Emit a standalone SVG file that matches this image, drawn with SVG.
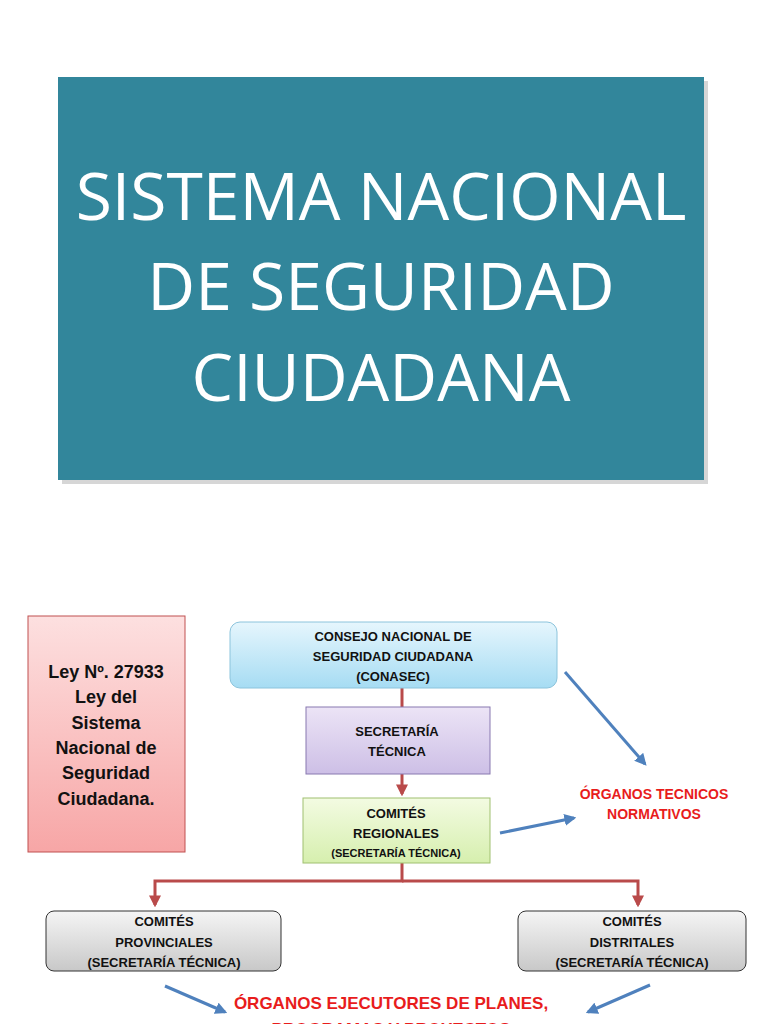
<svg xmlns="http://www.w3.org/2000/svg" width="768" height="1024" viewBox="0 0 768 1024">
<defs>
<linearGradient id="gBlue" x1="0" y1="0" x2="0" y2="1"><stop offset="0" stop-color="#e6f6fd"/><stop offset="1" stop-color="#a6dcf3"/></linearGradient>
<linearGradient id="gPurple" x1="0" y1="0" x2="0" y2="1"><stop offset="0" stop-color="#ece4f6"/><stop offset="1" stop-color="#cdbfe6"/></linearGradient>
<linearGradient id="gGreen" x1="0" y1="0" x2="0" y2="1"><stop offset="0" stop-color="#f3fbe2"/><stop offset="1" stop-color="#d6efae"/></linearGradient>
<linearGradient id="gGray" x1="0" y1="0" x2="0" y2="1"><stop offset="0" stop-color="#f5f5f5"/><stop offset="1" stop-color="#c8c8c8"/></linearGradient>
<linearGradient id="gPink" x1="0" y1="0" x2="0" y2="1"><stop offset="0" stop-color="#fde0e0"/><stop offset="1" stop-color="#f7a6a6"/></linearGradient>
<marker id="ar" viewBox="0 0 10 10" refX="8" refY="5" markerWidth="4" markerHeight="4" orient="auto"><path d="M0,0 L10,5 L0,10 z" fill="#b94a4a"/></marker>
<marker id="ab" viewBox="0 0 10 10" refX="8" refY="5" markerWidth="4" markerHeight="4" orient="auto"><path d="M0,0 L10,5 L0,10 z" fill="#4f81bd"/></marker>
</defs>
<style>
.t{font-family:"Liberation Sans",Arial,sans-serif;font-weight:bold;font-size:13px;text-anchor:middle;fill:#111}
.s{font-size:11px}
.r{fill:#e81c1c;font-size:14px}
.red{stroke:#b94a4a;stroke-width:3;fill:none}
.blue{stroke:#4f81bd;stroke-width:3;fill:none}
</style>
<rect width="768" height="1024" fill="#fff"/>
<g id="title">
<rect x="62" y="81" width="646" height="403" fill="#999" opacity="0.4"/>
<rect x="58" y="77" width="646" height="403" fill="#32869b"/>
<g font-family="'Open Sans','Liberation Sans',sans-serif" font-size="66" fill="#fff" text-anchor="middle">
<text x="381" y="220">SISTEMA NACIONAL</text>
<text x="381" y="310">DE SEGURIDAD</text>
<text x="381" y="401">CIUDADANA</text>
</g>
</g>
<g id="connectors">
<line x1="402" y1="688" x2="402" y2="707" class="red"/>
<line x1="402" y1="774" x2="402" y2="794" class="red" marker-end="url(#ar)"/>
<polyline points="402,863 402,881 155,881 155,905" class="red" marker-end="url(#ar)"/>
<polyline points="402,881 638,881 638,905" class="red" marker-end="url(#ar)"/>
<line x1="565" y1="672" x2="645" y2="764" class="blue" marker-end="url(#ab)"/>
<line x1="500" y1="833" x2="574" y2="818" class="blue" marker-end="url(#ab)"/>
<line x1="165" y1="986" x2="225" y2="1012" class="blue" marker-end="url(#ab)"/>
<line x1="650" y1="985" x2="588" y2="1012" class="blue" marker-end="url(#ab)"/>
</g>
<g id="ley">
<rect x="28" y="616" width="157" height="236" fill="url(#gPink)" stroke="#c05050" stroke-width="1"/>
<g class="t" style="font-size:18px">
<text x="106" y="678">Ley Nº. 27933</text>
<text x="106" y="703">Ley del</text>
<text x="106" y="729">Sistema</text>
<text x="106" y="754">Nacional de</text>
<text x="106" y="779">Seguridad</text>
<text x="106" y="805">Ciudadana.</text>
</g>
</g>
<g id="conasec">
<rect x="230" y="622" width="327" height="66" rx="10" fill="url(#gBlue)" stroke="#8cc4dc"/>
<text class="t" x="393" y="641">CONSEJO NACIONAL DE</text>
<text class="t" x="393" y="661">SEGURIDAD CIUDADANA</text>
<text class="t" x="393" y="681">(CONASEC)</text>
</g>
<g id="secretaria">
<rect x="306" y="707" width="184" height="67" fill="url(#gPurple)" stroke="#8878b0"/>
<text class="t" x="397" y="736">SECRETARÍA</text>
<text class="t" x="397" y="756">TÉCNICA</text>
</g>
<g id="regionales">
<rect x="303" y="798" width="187" height="65" fill="url(#gGreen)" stroke="#a0c070"/>
<text class="t" x="396" y="818">COMITÉS</text>
<text class="t" x="396" y="838">REGIONALES</text>
<text class="t s" x="396" y="857">(SECRETARÍA TÉCNICA)</text>
</g>
<g id="tecnicos">
<text class="t r" x="654" y="799">ÓRGANOS TECNICOS</text>
<text class="t r" x="654" y="819">NORMATIVOS</text>
</g>
<g id="provinciales">
<rect x="46" y="911" width="235" height="60" rx="8" fill="url(#gGray)" stroke="#333"/>
<text class="t" x="164" y="926">COMITÉS</text>
<text class="t" x="164" y="947">PROVINCIALES</text>
<text class="t" x="164" y="967">(SECRETARÍA TÉCNICA)</text>
</g>
<g id="distritales">
<rect x="518" y="911" width="228" height="60" rx="8" fill="url(#gGray)" stroke="#333"/>
<text class="t" x="632" y="926">COMITÉS</text>
<text class="t" x="632" y="947">DISTRITALES</text>
<text class="t" x="632" y="967">(SECRETARÍA TÉCNICA)</text>
</g>
<g id="ejecutores">
<text class="t r" style="font-size:17px" x="391" y="1009">ÓRGANOS EJECUTORES DE  PLANES,</text>
<text class="t r" style="font-size:17px" x="391" y="1035">PROGRAMAS Y PROYECTOS</text>
</g>
</svg>
